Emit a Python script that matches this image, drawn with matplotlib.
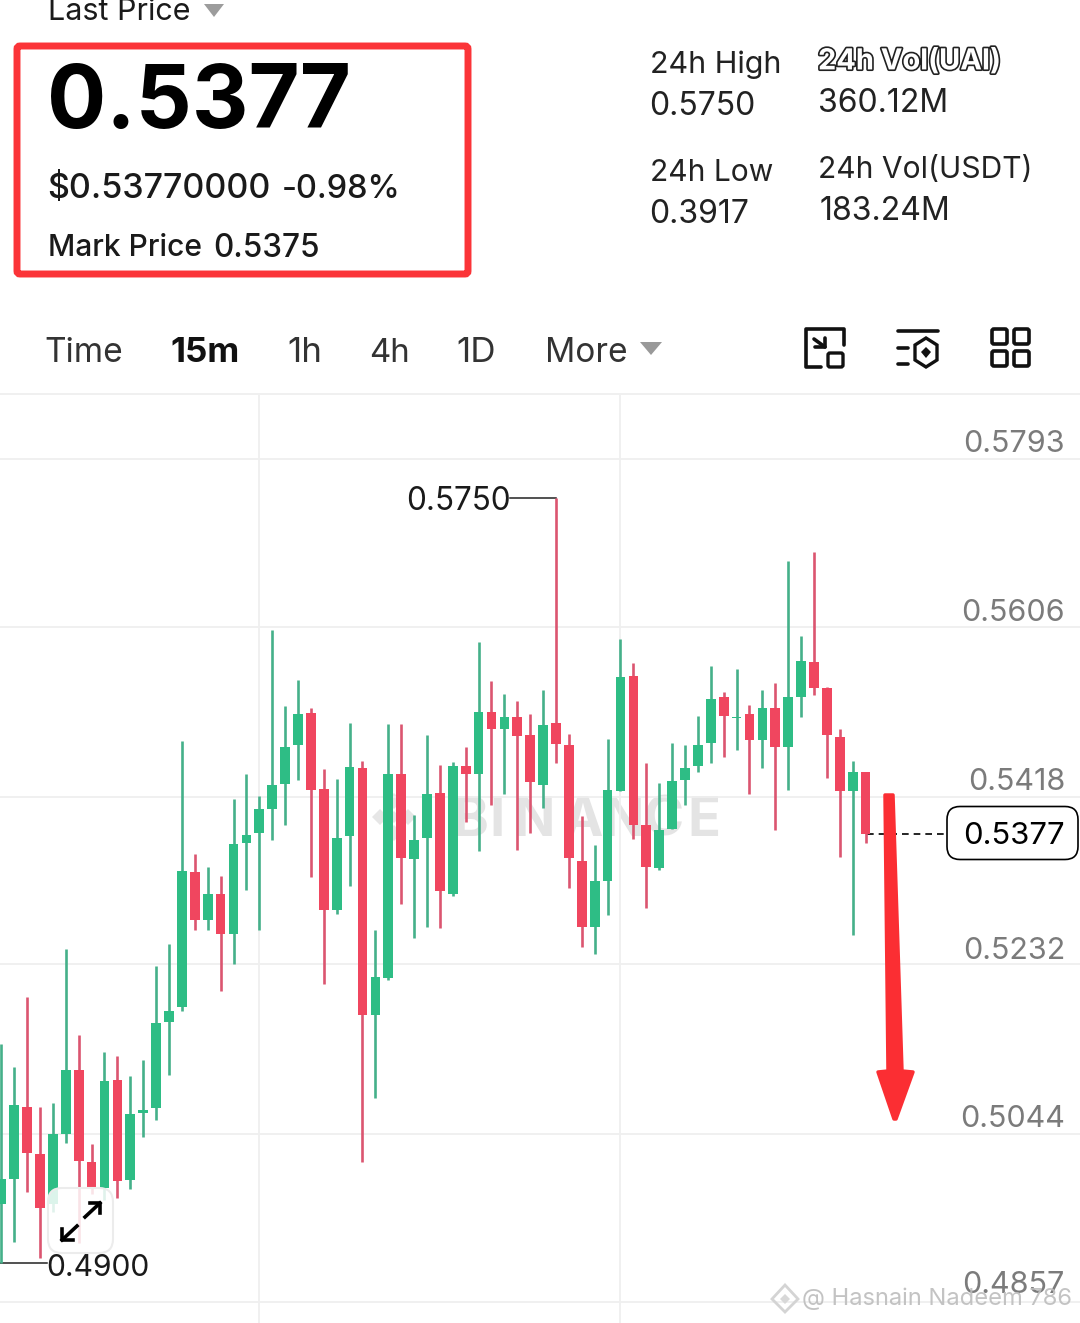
import matplotlib

matplotlib.use("Agg")
import matplotlib.patheffects as pe
import matplotlib.pyplot as plt
from matplotlib.patches import FancyBboxPatch, Polygon

plt.rcParams["font.family"] = ["Inter", "DejaVu Sans"]

W, H = 1080, 1323
GREEN, RED = "#2EBD85", "#F0465F"
GREEN_WICK, RED_WICK = "#45B08A", "#DB5570"
GRID = "#EFEFEF"

tick_prices = [0.5793, 0.5606, 0.5418, 0.5232, 0.5044, 0.4857]
last_price = 0.5377
high_price = 0.5750
low_price = 0.4900

# one candle per 15m, oldest first
opens = [
    0.4966, 0.4994, 0.5074, 0.5021, 0.4966, 0.5044, 0.5115, 0.5012, 0.4984, 0.5103,
    0.4992, 0.5067, 0.5072, 0.5168, 0.5185, 0.5334, 0.5281, 0.5310, 0.5266, 0.5367,
    0.5378, 0.5404, 0.5432, 0.5475, 0.5511, 0.5427, 0.5292, 0.5374, 0.5450, 0.5176,
    0.5217, 0.5443, 0.5349, 0.5372, 0.5422, 0.5310, 0.5452, 0.5443, 0.5512, 0.5493,
    0.5506, 0.5487, 0.5431, 0.5500, 0.5475, 0.5347, 0.5273, 0.5324, 0.5424, 0.5552,
    0.5387, 0.5339, 0.5382, 0.5437, 0.5452, 0.5478, 0.5529, 0.5505, 0.5510, 0.5481,
    0.5516, 0.5473, 0.5529, 0.5568, 0.5539, 0.5484, 0.5424, 0.5445,
]
closes = [
    0.4994, 0.5076, 0.5022, 0.4961, 0.5044, 0.5115, 0.5014, 0.4984, 0.5102, 0.4991,
    0.5066, 0.5070, 0.5167, 0.5180, 0.5336, 0.5281, 0.5310, 0.5266, 0.5366, 0.5376,
    0.5404, 0.5431, 0.5473, 0.5510, 0.5426, 0.5292, 0.5372, 0.5451, 0.5176, 0.5218,
    0.5443, 0.5350, 0.5370, 0.5421, 0.5313, 0.5452, 0.5443, 0.5512, 0.5493, 0.5506,
    0.5485, 0.5434, 0.5498, 0.5477, 0.5350, 0.5273, 0.5324, 0.5425, 0.5551, 0.5387,
    0.5340, 0.5381, 0.5436, 0.5450, 0.5475, 0.5527, 0.5508, 0.5507, 0.5481, 0.5517,
    0.5473, 0.5529, 0.5569, 0.5539, 0.5487, 0.5424, 0.5445, 0.5377,
]
highs = [
    0.5144, 0.5118, 0.5196, 0.5073, 0.5078, 0.5249, 0.5153, 0.5032, 0.5135, 0.5130,
    0.5108, 0.5126, 0.5230, 0.5255, 0.5480, 0.5354, 0.5340, 0.5330, 0.5415, 0.5443,
    0.5419, 0.5603, 0.5519, 0.5548, 0.5517, 0.5449, 0.5438, 0.5500, 0.5458, 0.5270,
    0.5499, 0.5499, 0.5398, 0.5486, 0.5453, 0.5457, 0.5473, 0.5590, 0.5546, 0.5532,
    0.5524, 0.5510, 0.5536, 0.5750, 0.5488, 0.5397, 0.5364, 0.5482, 0.5593, 0.5567,
    0.5456, 0.5433, 0.5478, 0.5475, 0.5508, 0.5563, 0.5534, 0.5560, 0.5520, 0.5536,
    0.5544, 0.5680, 0.5597, 0.5690, 0.5540, 0.5493, 0.5458, 0.5446,
]
lows = [
    0.4900, 0.4924, 0.4979, 0.4906, 0.4957, 0.5034, 0.4923, 0.4977, 0.4970, 0.4973,
    0.4983, 0.5040, 0.5059, 0.5109, 0.5180, 0.5270, 0.5270, 0.5202, 0.5232, 0.5315,
    0.5270, 0.5370, 0.5387, 0.5437, 0.5329, 0.5210, 0.5288, 0.5319, 0.5012, 0.5084,
    0.5215, 0.5299, 0.5261, 0.5273, 0.5272, 0.5308, 0.5390, 0.5358, 0.5409, 0.5421,
    0.5359, 0.5378, 0.5406, 0.5455, 0.5317, 0.5251, 0.5243, 0.5287, 0.5424, 0.5371,
    0.5294, 0.5337, 0.5382, 0.5409, 0.5446, 0.5455, 0.5462, 0.5470, 0.5421, 0.5450,
    0.5381, 0.5426, 0.5506, 0.5531, 0.5439, 0.5351, 0.5264, 0.5367,
]
# a flat candle still shows as a green one, so the colour is read separately
is_red = [
    0, 0, 1, 1, 0, 0, 1, 1, 0, 1, 0, 0, 0, 0, 0, 1, 0, 1, 0, 0, 0, 0, 0, 0, 1, 1, 0, 0,
    1, 0, 0, 1, 0, 0, 1, 0, 1, 0, 1, 0, 1, 1, 0, 1, 1, 1, 0, 0, 0, 1, 1, 0, 0, 0, 0, 0,
    1, 0, 1, 0, 1, 0, 0, 1, 1, 1, 0, 1,
]

fig = plt.figure(figsize=(W / 100, H / 100), dpi=100, facecolor="white")


def px_axes(zorder):
    ax = fig.add_axes([0, 0, 1, 1], zorder=zorder)
    ax.set_xlim(0, W)
    ax.set_ylim(H, 0)
    ax.axis("off")
    ax.patch.set_alpha(0)
    return ax


bg = px_axes(0)
top = px_axes(2)


def label(ax, x, y, s, px, color="black", ha="left", weight="normal", **kw):
    # va="center" sits a little high for digits, push down in proportion to size
    return ax.text(x, y + px * 0.1, s, fontsize=px * 0.72, color=color, ha=ha, va="center",
                   fontweight=weight, **kw)


# --- chart area: x is candle index, y is price ---
CHART_TOP = 395
price_per_px = (tick_prices[0] - tick_prices[-1]) / (1302 - 459)
ax = fig.add_axes([0, 0, 1, (H - CHART_TOP) / H], zorder=1)
ax.patch.set_alpha(0)
ax.axis("off")
step = 12.9
ax.set_xlim(-1.3 / step, (W - 1.3) / step)
ax.set_ylim(tick_prices[0] - (1323 - 459) * price_per_px,
            tick_prices[0] + (459 - CHART_TOP) * price_per_px)

for p in tick_prices:
    ax.axhline(p, color=GRID, lw=1.3, zorder=0)
for idx in (20, 48):
    ax.axvline(idx, color=GRID, lw=1.3, zorder=0)

# faint exchange watermark behind the candles, letters spaced out by hand
for x, ch in zip([470, 497, 534, 583, 623, 664, 704], "BINANCE"):
    bg.text(x, 821, ch, fontsize=39, color="#E4E4E4", ha="center", va="center", fontweight="bold")
for cx, cy, r in [(380, 817, 8), (394, 801, 8), (394, 833, 8), (408, 817, 8), (394, 817, 6)]:
    bg.add_patch(Polygon([(cx - r, cy), (cx, cy - r), (cx + r, cy), (cx, cy + r)], fc="#E6E6E6", ec="none"))

for i in range(len(opens)):
    body_hi = max(opens[i], closes[i])
    body_lo = min(opens[i], closes[i])
    c = RED if is_red[i] else GREEN
    w = RED_WICK if is_red[i] else GREEN_WICK
    ax.vlines(i, lows[i], highs[i], color=w, lw=1.9, zorder=2)
    ax.bar(i, body_hi - body_lo, bottom=body_lo, width=0.75, color=c, lw=0, zorder=3)

i_hi = highs.index(high_price)
i_lo = lows.index(low_price)
ax.plot([i_hi - 3.6, i_hi], [high_price, high_price], color="#222222", lw=1.1, zorder=1)
ax.plot([-1, i_lo + 3.55], [low_price, low_price], color="#222222", lw=1.1, zorder=1)
ax.plot([len(opens) - 1 + 0.1, 73.3], [last_price, last_price], color="black", lw=1.2,
        ls=(0, (4, 3)), zorder=1)

# --- axis labels, price tag and callouts ---
label_y = [441, 610, 779, 948, 1116, 1282]
for p, y in zip(tick_prices, label_y):
    label(top, 1065, y, f"{p:.4f}", 30.5, color="#7B7B7B", ha="right")

label(top, 406, 498, f"{high_price:.4f}", 31.5, color="#1A1A1A")
label(top, 46, 1265, f"{low_price:.4f}", 30, color="#1A1A1A")

top.add_patch(FancyBboxPatch((947, 806.5), 131, 53, boxstyle="round,pad=0,rounding_size=13",
                             fc="white", ec="black", lw=1.2, zorder=3))
label(top, 1065, 833, f"{last_price:.4f}", 31, ha="right", zorder=4)

# the hand-drawn red arrow
top.add_patch(Polygon([(885, 795), (893, 795), (902, 1071), (913, 1072), (896, 1119), (894, 1119),
                       (878, 1072), (888, 1071)],
                      fc="#FB2E33", ec="#FB2E33", lw=2.5, joinstyle="round", zorder=4))

# zoom button over the bottom left candles
top.add_patch(FancyBboxPatch((48, 1188), 65, 65, boxstyle="round,pad=0,rounding_size=14",
                             fc=(1, 1, 1, 0.84), ec="#ECECEC", lw=1.5, zorder=3))
BTN = dict(color="black", lw=2.6, zorder=4)
top.plot([85, 100], [1217, 1203], **BTN)
top.plot([90, 100, 100], [1203, 1203, 1213], **BTN)
top.plot([77, 62], [1226, 1240], **BTN)
top.plot([62, 62, 73], [1229, 1240, 1240], **BTN)

# bottom right watermark
label(top, 1072, 1296, "@ Hasnain Nadeem 786", 23.7, color="#BDBDBD", ha="right", alpha=0.9, zorder=5)
top.add_patch(Polygon([(772, 1299), (785, 1285), (798, 1299), (785, 1312)], fc="none", ec="#D4D4D4",
                      lw=2, zorder=5))
top.add_patch(Polygon([(780, 1299), (785, 1294), (790, 1299), (785, 1304)], fc="#D8D8D8", ec="none",
                      zorder=5))

# --- header ---
label(top, 48, 9, "Last Price", 30.5, color="#1A1A1A")
top.add_patch(Polygon([(204, 4), (224, 4), (214, 17)], fc="#9C9C9C", ec="none"))

top.add_patch(FancyBboxPatch((17, 46), 451, 228, boxstyle="round,pad=0,rounding_size=3", fc="none",
                             ec="#FB3438", lw=5))
label(top, 47, 96, "0.5377", 88, weight="bold", color="black")
label(top, 47, 186, "$0.53770000", 34, weight="medium", color="#1A1A1A")
label(top, 282, 186, "-0.98%", 32.5, weight="medium", color="#1A1A1A")
label(top, 48, 245, "Mark Price", 30, weight="medium", color="#1A1A1A")
label(top, 213, 245, "0.5375", 31.5, weight="medium", color="#1A1A1A")

label(top, 650, 62, "24h High", 30.5, color="#222222")
label(top, 649, 103, "0.5750", 32, color="#222222")
label(top, 650, 170, "24h Low", 30, color="#222222")
label(top, 649, 211, "0.3917", 32, color="#222222")
label(top, 818, 59, "24h Vol(UAI)", 29, color="white", weight="bold",
      path_effects=[pe.withStroke(linewidth=2.4, foreground="#222222")])
label(top, 818, 100, "360.12M", 32, color="#222222")
label(top, 818, 167, "24h Vol(USDT)", 30, color="#222222")
label(top, 820, 208, "183.24M", 32, color="#222222")

# --- interval tabs ---
label(top, 44, 350, "Time", 33.5, color="#333333")
label(top, 170, 350, "15m", 35, weight="bold", color="#111111")
label(top, 287, 350, "1h", 35, color="#333333")
label(top, 369, 350, "4h", 33, color="#333333")
label(top, 456, 350, "1D", 35, color="#333333")
label(top, 545, 350, "More", 33.5, color="#333333")
top.add_patch(Polygon([(640, 342), (662, 342), (651, 355)], fc="#999999", ec="none"))

# toolbar icons
ICON = dict(color="#111111", lw=2.6, solid_capstyle="round")
top.plot([821, 806, 806, 844, 844], [367, 367, 329, 329, 345], **ICON)
top.plot([814, 825], [339, 347], **ICON)
top.plot([815, 825, 825], [347, 347, 338], **ICON)
top.add_patch(FancyBboxPatch((828, 353), 15, 14, boxstyle="round,pad=0,rounding_size=2", fc="none",
                             ec="#111111", lw=2.4))
top.plot([898, 938], [331, 331], **ICON)
top.plot([898, 908], [348, 348], **ICON)
top.plot([898, 908], [364, 364], **ICON)
top.add_patch(Polygon([(926, 338), (937, 345), (937, 360), (926, 367), (915, 360), (915, 345)],
                      fc="none", ec="#111111", lw=2.4))
top.add_patch(Polygon([(926, 347), (931, 352), (926, 358), (921, 352)], fc="#111111", ec="none"))
for x0 in (992, 1014):
    for y0 in (329, 351):
        top.add_patch(FancyBboxPatch((x0, y0), 15, 15, boxstyle="round,pad=0,rounding_size=2",
                                     fc="none", ec="#111111", lw=2.6))

bg.plot([0, W], [394, 394], color=GRID, lw=1.3)

fig.savefig("out.png", dpi=100)
plt.close(fig)
